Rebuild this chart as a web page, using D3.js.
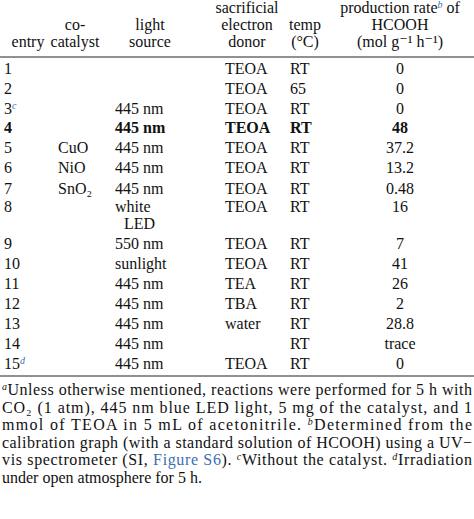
<!DOCTYPE html><html><head><meta charset="utf-8"><script src="https://cdn.jsdelivr.net/npm/d3@7"></script>
<style>body{margin:0;background:#fff}svg text{font-family:'Liberation Serif','Times New Roman','DejaVu Serif',serif !important;fill:#111}</style></head><body><svg id="s" width="474" height="519" font-family="Liberation Serif, Times New Roman, DejaVu Serif, serif"></svg>
<script>
const entries=["1","2","3","4","5","6","7","8","9","10","11","12","13","14","15"];
const entrySup=["","","c","","","","","","","","","","","","d"];
const cocat=["","","","","CuO","NiO","SnO₂","","","","","","","",""];
const light=["","","445 nm","445 nm","445 nm","445 nm","445 nm","white|LED","550 nm","sunlight","445 nm","445 nm","445 nm","445 nm","445 nm"];
const donor=["TEOA","TEOA","TEOA","TEOA","TEOA","TEOA","TEOA","TEOA","TEOA","TEOA","TEA","TBA","water","","TEOA"];
const temp=["RT","65","RT","RT","RT","RT","RT","RT","RT","RT","RT","RT","RT","RT","RT"];
const rate=["0","0","0","48","37.2","13.2","0.48","16","7","41","26","2","28.8","trace","0"];
const rowY=[69,89,109,128,148,168,189,207,244,264,284,304,324,344,364];
const svg=d3.select("#s");
const fs=16;
const hdr=[
 {x:28,lines:["","","entry"]},{x:75,lines:["","co-","catalyst"]},{x:150,lines:["","light","source"]},
 {x:247,lines:["sacrificial","electron","donor"]},{x:305,lines:["","temp","(°C)"]},{x:400,lines:["production rate","HCOOH","(mol g⁻¹ h⁻¹)"]}];
hdr.forEach(h=>h.lines.forEach((l,i)=>{ if(!l)return;
 const t=svg.append("text").attr("x",h.x).attr("y",13+i*17).attr("text-anchor","middle").attr("font-size",fs);
 if(l==="production rate"){t.text("production rate");t.append("tspan").attr("dy",-5).attr("font-size",10).attr("font-style","italic").style("fill","#3a6fb0").text("b");t.append("tspan").attr("dy",5).text(" of");}
 else t.text(l);}));
svg.append("line").attr("x1",0).attr("x2",474).attr("y1",57).attr("y2",57).attr("stroke","#222").attr("stroke-width",1);
svg.append("line").attr("x1",0).attr("x2",474).attr("y1",376).attr("y2",376).attr("stroke","#222").attr("stroke-width",1);
entries.forEach((e,i)=>{
 const y=rowY[i]+5, bold=i===3?"bold":"normal";
 const t=svg.append("text").attr("x",4).attr("y",y).attr("font-size",fs).attr("font-weight",bold).text(e);
 if(entrySup[i])t.append("tspan").attr("dy",-5).attr("font-size",10).attr("font-style","italic").style("fill","#3a6fb0").text(entrySup[i]);
 if(cocat[i])svg.append("text").attr("x",58).attr("y",y).attr("font-size",fs).text(cocat[i]);
 light[i].split("|").forEach((l,k)=>{ if(l)svg.append("text").attr("x",l==="LED"?124:115).attr("y",y+k*17).attr("font-size",fs).attr("font-weight",bold).text(l);});
 if(donor[i])svg.append("text").attr("x",225).attr("y",y).attr("font-size",fs).attr("font-weight",bold).text(donor[i]);
 svg.append("text").attr("x",290).attr("y",y).attr("font-size",fs).attr("font-weight",bold).text(temp[i]);
 svg.append("text").attr("x",400).attr("y",y).attr("text-anchor","middle").attr("font-size",fs).attr("font-weight",bold).text(rate[i]);
});
const foot=[
 [["a","sup"],["Unless otherwise mentioned, reactions were performed for 5 h with"]],
 [["CO₂ (1 atm), 445 nm blue LED light, 5 mg of the catalyst, and 1"]],
 [["mmol of TEOA in 5 mL of acetonitrile. "],["b","sup"],["Determined from the"]],
 [["calibration graph (with a standard solution of HCOOH) using a UV−"]],
 [["vis spectrometer (SI, "],["Figure S6","link"],["). "],["c","sup"],["Without the catalyst. "],["d","sup"],["Irradiation"]],
 [["under open atmosphere for 5 h."]]];
foot.forEach((parts,i)=>{
 const t=svg.append("text").attr("x",2).attr("y",395+i*17.5).attr("font-size",16);
 if(i<5)t.attr("textLength",470).attr("lengthAdjust","spacing");
 parts.forEach(p=>{const s=t.append("tspan").text(p[0]);
  if(p[1]==="sup")s.attr("font-size",10).attr("font-style","italic").attr("baseline-shift","super");
  if(p[1]==="link")s.style("fill","#3a6fb0");});
});
</script></body></html>
